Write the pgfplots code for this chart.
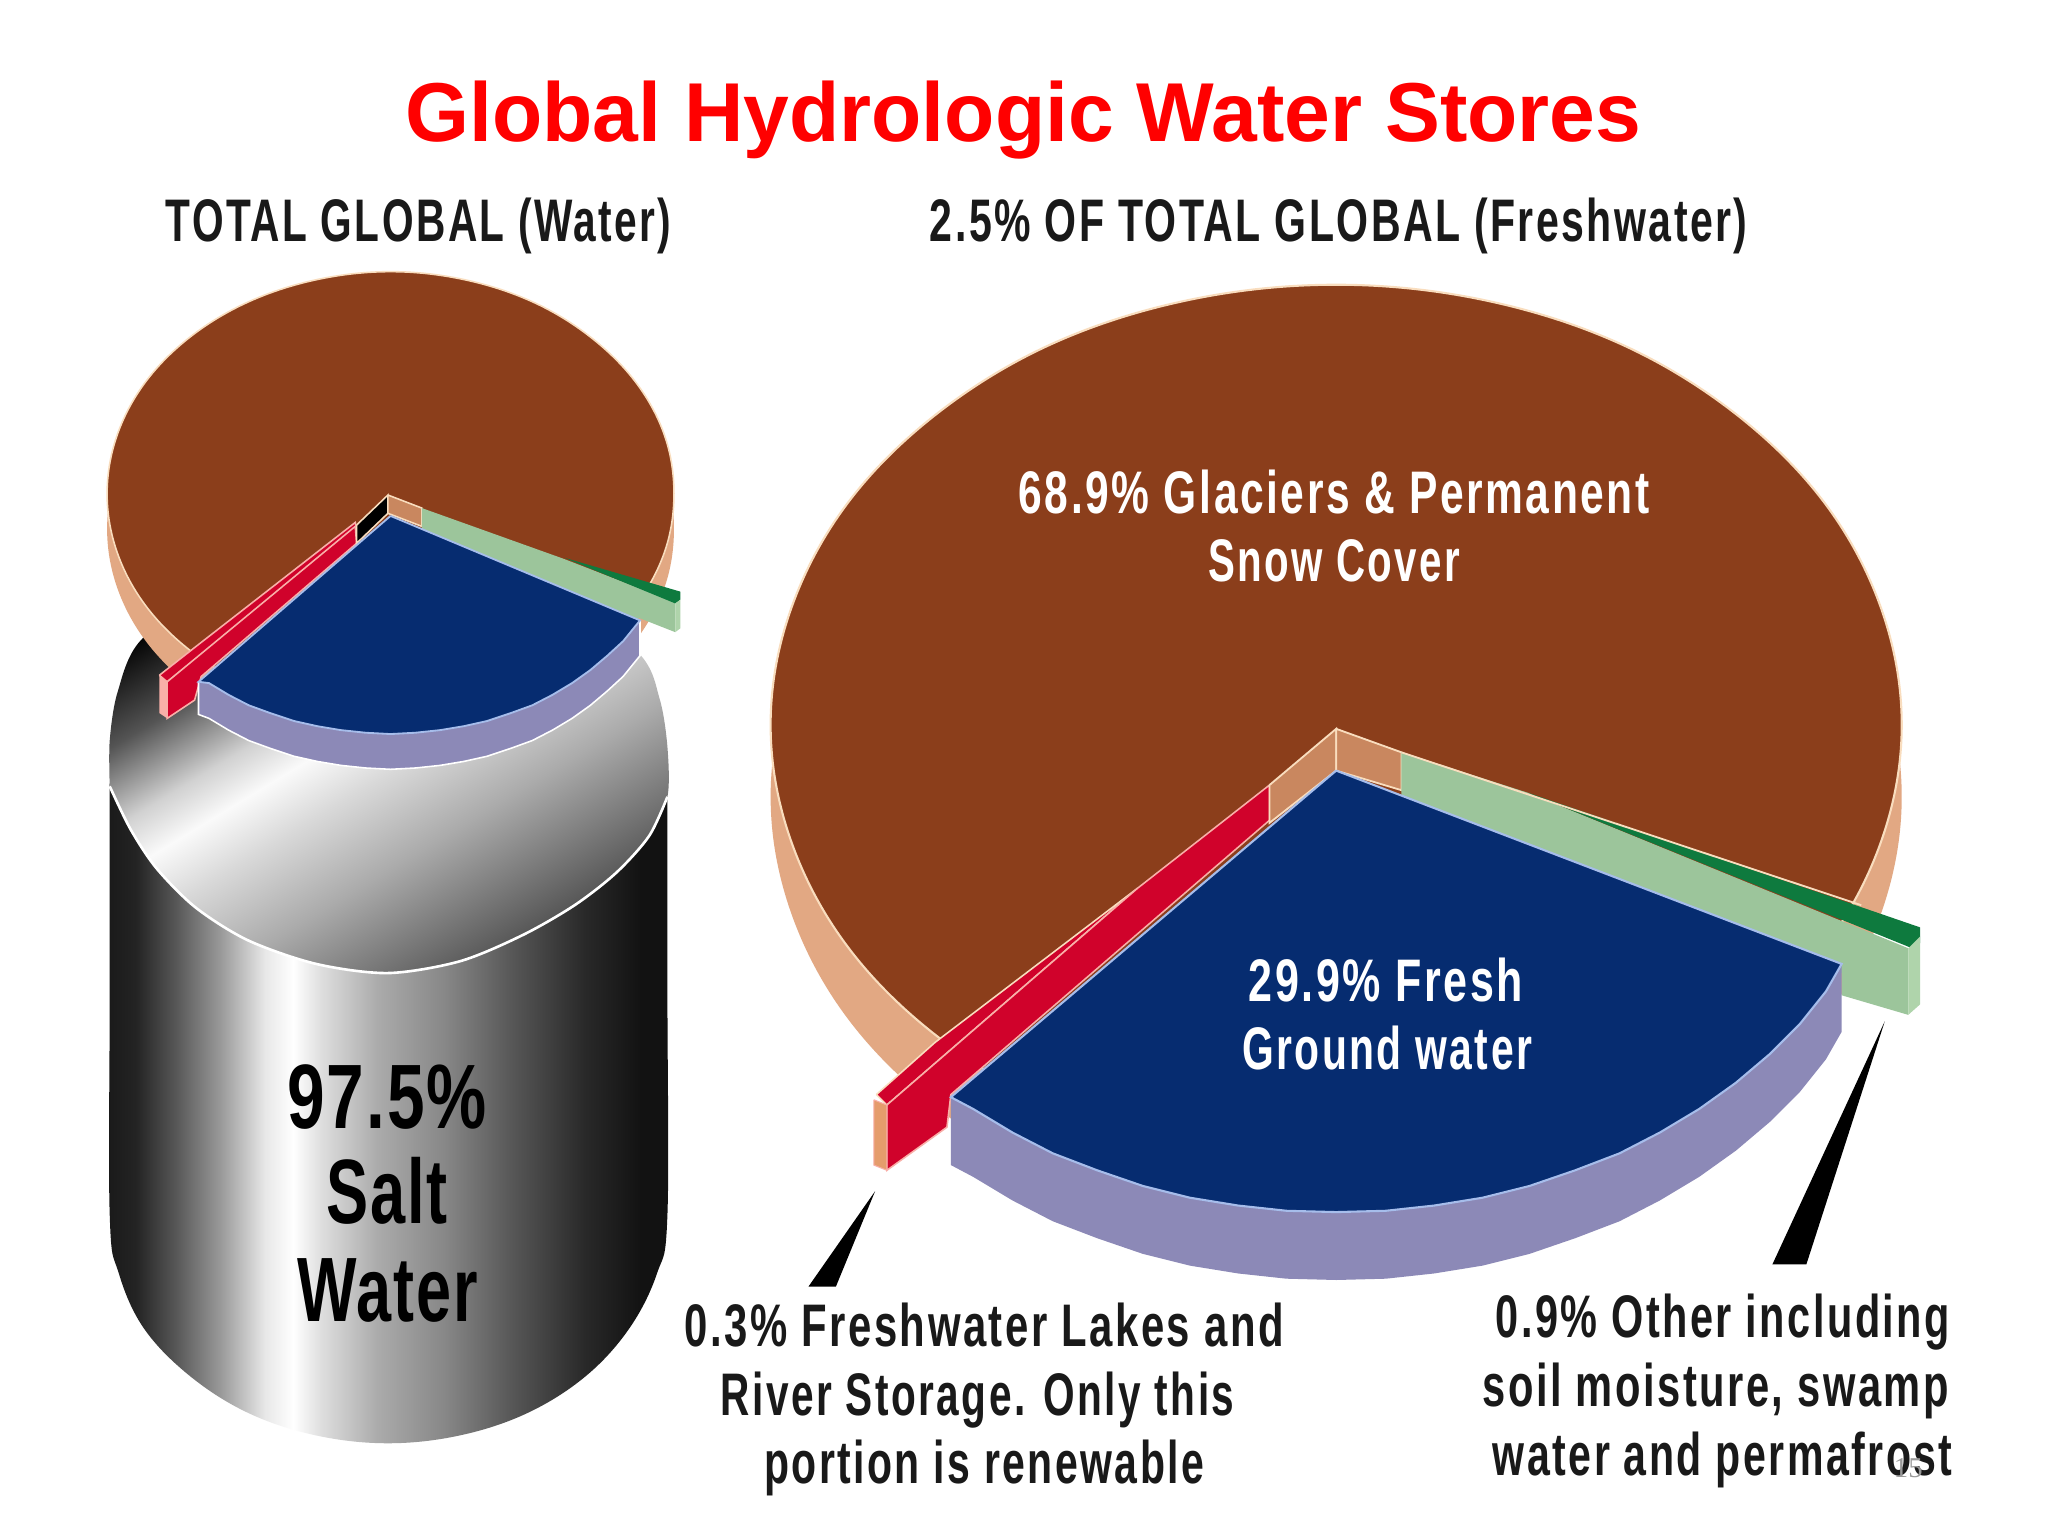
\documentclass[border=0pt]{standalone}
\usepackage{pgfplots}
\pgfplotsset{compat=1.18}
\usepackage{fontspec}
\setmainfont{Liberation Sans}
\newfontfamily\serifnum{Liberation Serif}
\newfontfamily\spaced[LetterSpace=6]{Liberation Sans}
\newfontfamily\spacedb[LetterSpace=3]{Liberation Sans}
\newlength\pxu \setlength\pxu{0.5pt}
\newcommand\fit[2]{\resizebox{#1\pxu}{\height}{#2}}
\definecolor{brownT}{HTML}{8B3E1B}
\definecolor{tanR}{HTML}{E2A883}
\definecolor{peach}{HTML}{F9DDBE}
\definecolor{wallT}{HTML}{C9875F}
\definecolor{blueT}{HTML}{062C70}
\definecolor{blueL}{HTML}{A6BDEB}
\definecolor{lav}{HTML}{8C89B7}
\definecolor{redT}{HTML}{D0022B}
\definecolor{pinkL}{HTML}{F9AFA8}
\definecolor{endF}{HTML}{E59C6C}
\definecolor{greenL}{HTML}{9CC59B}
\definecolor{greenS}{HTML}{AFD4AB}
\definecolor{greenD}{HTML}{0E7A3E}
\pgfdeclarehorizontalshading{bodyshade}{100bp}{
 color(0bp)=(black!90); color(25bp)=(black!90); color(27.5bp)=(black!86);
 color(31bp)=(black!66); color(35bp)=(black!40); color(39bp)=(black!9);
 color(41.5bp)=(white); color(44bp)=(black!13); color(49bp)=(black!33);
 color(55bp)=(black!47); color(61bp)=(black!66); color(67.5bp)=(black!84);
 color(72.5bp)=(black!93); color(75bp)=(black!93); color(100bp)=(black!93)}
\pgfdeclarehorizontalshading{lidshade}{100bp}{
 color(0bp)=(black); color(25bp)=(black); color(33.6bp)=(black!67);
 color(41bp)=(black!18); color(45.5bp)=(black!2); color(51bp)=(black!15);
 color(59.7bp)=(black!33); color(71.4bp)=(black!62); color(78.6bp)=(black!80); color(100bp)=(black!80)}
\begin{document}
\begin{tikzpicture}
\begin{axis}[hide axis, scale only axis, width=784pt, height=588pt,
  xmin=0, xmax=1568, ymin=0, ymax=1176, y dir=reverse, clip=true]
% background
\addplot[fill=white, draw=none] coordinates {(0,0)(1568,0)(1568,1176)(0,1176)};
% cylinder body
\addplot[smooth, tension=0.61, draw=none, shading=bodyshade] coordinates {(84,600)(84,760)(84,930)(91,975)(110.5,1017.5)(146,1054)(190.5,1082)(242,1099)(297,1105)(352,1099)(403.5,1082)(448,1054)(481.5,1017.5)(503,975)(511,930)(511,760)(511,610)};
% cylinder lid
\addplot[smooth, draw=none, shading=lidshade, shading angle=-58.7] coordinates {(84,602)(84,567)(90,530)(108,490)(170,445)(297,420)(420,445)(489,500)(505,535)(511,572)(511,610)(497,640)(472,668)(440,693)(400,716)(352,736)(297,745)(242,738)(190,720)(150,695)(120,665)(100,635)(84,602)};
\addplot[smooth, draw=white, line width=1pt] coordinates {(511,610)(497,640)(472,668)(440,693)(400,716)(352,736)(297,745)(242,738)(190,720)(150,695)(120,665)(100,635)(84,602)};
% small pie: rim and top
\addplot[smooth cycle, tension=0.61, fill=tanR, draw=none] coordinates {(516,405)(509,449)(487,490)(452,525)(407.5,552)(355,569)(299,575)(243,569)(190.5,552)(145.6,525)(111,490)(89.4,449)(82,405)(89.4,361)(111,320)(145.6,285)(190.5,258)(243,241)(299,235)(355,241)(407.5,258)(452,285)(487,320)(509,361)};
\addplot[smooth cycle, tension=0.61, fill=brownT, draw=peach, line width=0.6pt] coordinates {(516,378)(509,422)(487,463)(452,498)(407.5,525)(355,542)(299,548)(243,542)(190.5,525)(145.6,498)(111,463)(89.4,422)(82,378)(89.4,334)(111,293)(145.6,258)(190.5,231)(243,214)(299,208)(355,214)(407.5,231)(452,258)(487,293)(509,334)};
% small pie: walls
\addplot[fill=redT, draw=pinkL, line width=0.6pt] coordinates {(122,517)(150,495)(272,400)(273,405)(128,522)(122,517)};
\addplot[fill=redT, draw=pinkL, line width=0.6pt] coordinates {(128,522)(272,403)(273,416)(154,518)(149,536)(128,550)(128,522)};
\addplot[fill=pinkL, draw=none] coordinates {(122,517)(128,522)(128,550)(122,546)};
\addplot[fill=black, draw=peach, line width=0.6pt] coordinates {(273,402)(297,379)(297,393)(273,416)(273,402)};
\addplot[fill=wallT, draw=peach, line width=0.6pt] coordinates {(297,379)(323,389)(323,403)(297,393)(297,379)};
\addplot[fill=greenL, draw=none] coordinates {(323,389)(432,428)(517,461)(517,484)(489,473)(489,476)(323,408)};
\addplot[fill=greenD, draw=none] coordinates {(432,427)(521,453)(521,459)(517,462)};
\addplot[fill=greenS, draw=none] coordinates {(517,462)(521,459)(521,481)(517,484)};
% small pie: blue sector
\addplot[fill=lav, draw=white, line width=0.6pt] coordinates {(490,475)(490,502)(477,518)(465,529)(452,540)(438,550)(423,559)(407.5,567)(391,573)(373,579)(355,583)(337,586)(318,588)(299,589)(280,588)(261,586)(243,583)(225,579)(207,573)(190.5,567)(175,559)(160,550)(152,547)(152,522)};
\addplot[fill=blueT, draw=blueL, line width=0.7pt] coordinates {(299,395)(490,475)(477,491)(465,502)(452,513)(438,523)(423,532)(407.5,540)(391,546)(373,552)(355,556)(337,559)(318,561)(299,562)(280,561)(261,559)(243,556)(225,552)(207,546)(190.5,540)(175,532)(160,523)(152,522)(299,395)};
% big pie: rim and top
\addplot[smooth cycle, tension=0.61, fill=tanR, draw=none] coordinates {(1456,610)(1441,697)(1398,778.5)(1329,848)(1240,902)(1135,935.5)(1023,947)(911,935.5)(806,902)(717,848)(648,778.5)(605,697)(590,610)(605,523)(648,441.5)(717,372)(806,318)(911,284.5)(1023,273)(1135,284.5)(1240,318)(1329,372)(1398,441.5)(1441,523)};
\addplot[smooth cycle, tension=0.61, fill=brownT, draw=peach, line width=0.8pt] coordinates {(1456,555)(1441,642)(1398,723.5)(1329,793)(1240,847)(1135,880.5)(1023,892)(911,880.5)(806,847)(717,793)(648,723.5)(605,642)(590,555)(605,468)(648,386.5)(717,317)(806,263)(911,229.5)(1023,218)(1135,229.5)(1240,263)(1329,317)(1398,386.5)(1441,468)};
% big pie: walls
\addplot[fill=redT, draw=peach, line width=0.6pt] coordinates {(671,838)(716,798)(871,680)(679,846)(671,838)};
\addplot[fill=redT, draw=pinkL, line width=0.6pt] coordinates {(679,846)(871,680)(972,601)(972,628)(728,838)(725,863)(679,896)(679,846)};
\addplot[fill=endF, draw=pinkL, line width=0.4pt] coordinates {(669,842)(679,846)(679,896)(669,892)(669,842)};
\addplot[fill=wallT, draw=peach, line width=0.7pt] coordinates {(972,601)(1023,558)(1023,590)(972,630)(972,601)};
\addplot[fill=wallT, draw=peach, line width=0.7pt] coordinates {(1023,558)(1073,576)(1073,605)(1023,590)(1023,558)};
\addplot[fill=greenL, draw=none] coordinates {(1073,576)(1170,607)(1461,726)(1461,777)(1410,762)(1410,745)(1073,612)};
\addplot[fill=greenD, draw=none] coordinates {(1170,607)(1470,710)(1470,722)(1464,726)};
\addplot[fill=greenS, draw=none] coordinates {(1461,726)(1470,717)(1470,769)(1461,777)};
\addplot[draw=peach, line width=0.7pt] coordinates {(1073,576)(1425,693)};
% big pie: blue sector
\addplot[fill=lav, draw=none] coordinates {(1410,738)(1410,790)(1398,811)(1378,836)(1355,859)(1329,881)(1301,901)(1271,919)(1240,935)(1206,948)(1171,960)(1135,969)(1098,975)(1061,979)(1023,980)(985,979)(948,975)(911,969)(875,960)(840,948)(806,935)(775,919)(745,901)(728,892)(728,840)};
\addplot[fill=blueT, draw=blueL, line width=0.8pt] coordinates {(1023,590)(1410,738)(1398,759)(1378,784)(1355,807)(1329,829)(1301,849)(1271,867)(1240,883)(1206,896)(1171,908)(1135,917)(1098,923)(1061,927)(1023,928)(985,927)(948,923)(911,917)(875,908)(840,896)(806,883)(775,867)(745,849)(728,840)(1023,590)};
% pointers
\addplot[fill=black, draw=none] coordinates {(670,912)(619,985)(640,985)};
\addplot[fill=black, draw=none] coordinates {(1443,782)(1357,968)(1383,968)};
% text
\node[anchor=base, text=red, font=\fontsize{32}{32}\selectfont\bfseries] at (axis cs:783.5,108) {\fit{946}{Global Hydrologic Water Stores}};
\node[anchor=base, text=black!90, font=\fontsize{23}{23}\selectfont\spaced\bfseries] at (axis cs:320.5,185) {\fit{387}{TOTAL GLOBAL (Water)}};
\node[anchor=base, text=black!90, font=\fontsize{23}{23}\selectfont\spaced\bfseries] at (axis cs:1025,185) {\fit{626}{2.5\% OF TOTAL GLOBAL (Freshwater)}};
\node[anchor=base, text=white, font=\fontsize{23}{23}\selectfont\spaced\bfseries] at (axis cs:1021.5,393) {\fit{483}{68.9\% Glaciers \& Permanent}};
\node[anchor=base, text=white, font=\fontsize{23}{23}\selectfont\spaced\bfseries] at (axis cs:1021.5,445) {\fit{193}{Snow Cover}};
\node[anchor=base, text=white, font=\fontsize{23}{23}\selectfont\spaced\bfseries] at (axis cs:1061,767) {\fit{210}{29.9\% Fresh}};
\node[anchor=base, text=white, font=\fontsize{23}{23}\selectfont\spaced\bfseries] at (axis cs:1062,819) {\fit{222}{Ground water}};
\node[anchor=base, text=black, font=\fontsize{35}{35}\selectfont\spacedb\bfseries] at (axis cs:296.5,864) {\fit{153}{97.5\%}};
\node[anchor=base, text=black, font=\fontsize{35}{35}\selectfont\spacedb\bfseries] at (axis cs:296.5,937) {\fit{93}{Salt}};
\node[anchor=base, text=black, font=\fontsize{35}{35}\selectfont\spacedb\bfseries] at (axis cs:297,1012) {\fit{138}{Water}};
\node[anchor=base, text=black!90, font=\fontsize{23}{23}\selectfont\spaced\bfseries] at (axis cs:753.5,1031) {\fit{459}{0.3\% Freshwater Lakes and}};
\node[anchor=base, text=black!90, font=\fontsize{23}{23}\selectfont\spaced\bfseries] at (axis cs:748.5,1084) {\fit{393}{River Storage. Only this}};
\node[anchor=base, text=black!90, font=\fontsize{23}{23}\selectfont\spaced\bfseries] at (axis cs:753.5,1136) {\fit{337}{portion is renewable}};
\node[anchor=base, text=black!90, font=\fontsize{23}{23}\selectfont\spaced\bfseries] at (axis cs:1319,1024) {\fit{348}{0.9\% Other including}};
\node[anchor=base, text=black!90, font=\fontsize{23}{23}\selectfont\spaced\bfseries] at (axis cs:1313.5,1077) {\fit{357}{soil moisture, swamp}};
\node[anchor=base, text=black!90, font=\fontsize{23}{23}\selectfont\spaced\bfseries] at (axis cs:1319,1130) {\fit{352}{water and permafrost}};
\node[anchor=base, text=black!40, font=\fontsize{11}{11}\selectfont\serifnum] at (axis cs:1461,1131) {15};
\end{axis}
\end{tikzpicture}
\end{document}
